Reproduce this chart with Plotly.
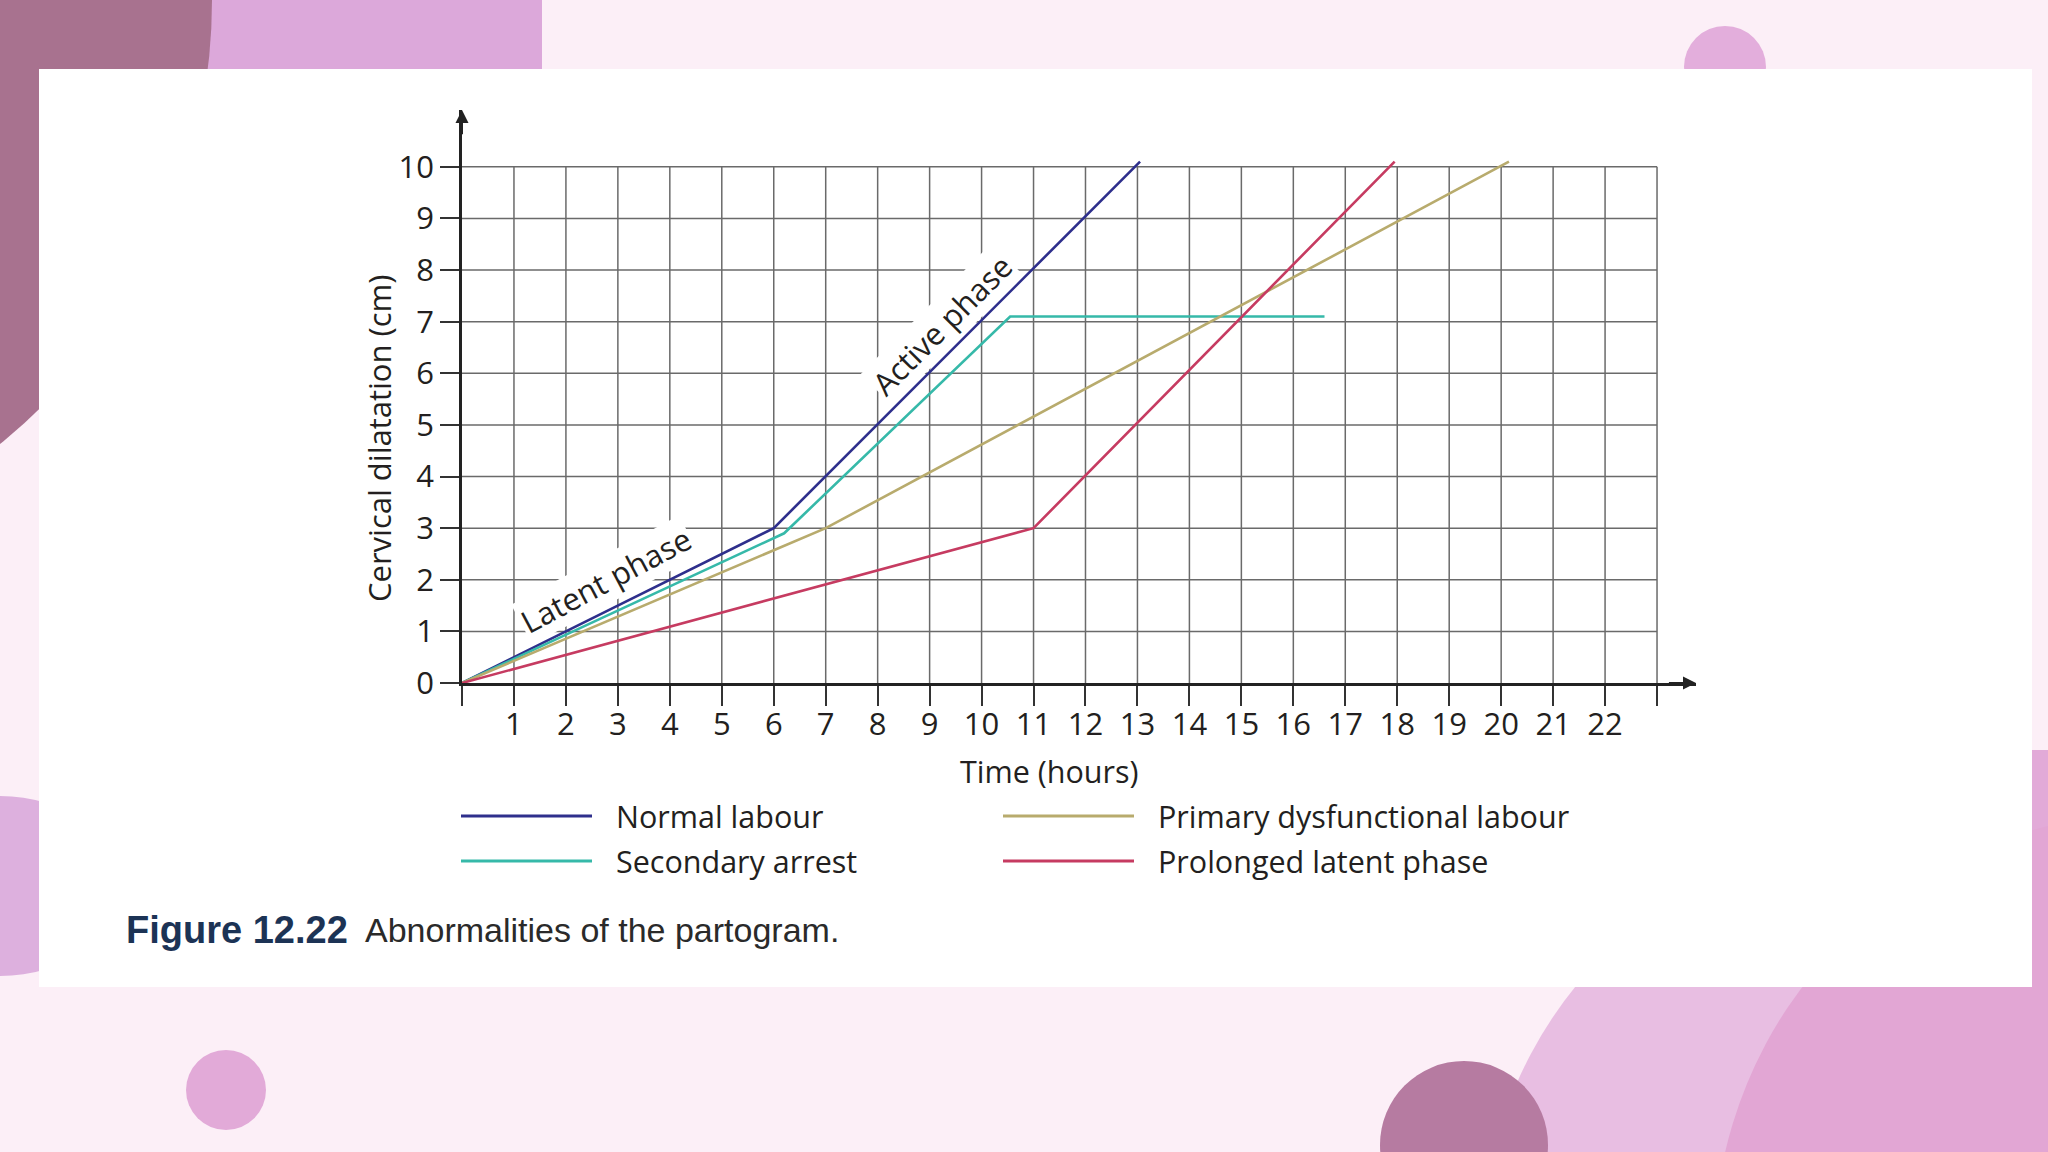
import plotly.graph_objects as go

W, H = 2048, 1152

# cervical dilatation (cm) against time (hours)
hours_normal = [0, 6, 13.05]
cm_normal = [0, 3, 10.1]
hours_secondary = [0, 6.2, 10.55, 16.6]
cm_secondary = [0, 2.9, 7.1, 7.1]
hours_primary = [0, 7, 20.15]
cm_primary = [0, 3, 10.1]
hours_prolonged = [0, 11, 17.95]
cm_prolonged = [0, 3, 10.1]

series_names = ["Normal labour", "Secondary arrest",
                "Primary dysfunctional labour", "Prolonged latent phase"]
series_colors = ["#2E2F8C", "#36B9A9", "#B8AB6D", "#C63B61"]

x_ticks = list(range(0, 24))
x_ticklabels = [""] + [str(i) for i in range(1, 23)] + [""]
y_ticks = list(range(0, 11))
y_ticklabels = [str(i) for i in y_ticks]

TEXT = "#231F20"
FONT = "Open Sans"


def px(x):
    return x / W


def py(y):
    return 1 - y / H


def circle(cx, cy, r, color, ry=None):
    ry = r if ry is None else ry
    return dict(type="circle", xref="paper", yref="paper", layer="below",
                x0=px(cx - r), x1=px(cx + r), y0=py(cy + ry), y1=py(cy - ry),
                fillcolor=color, line=dict(width=0))


def rect(x0, y0, x1, y1, color):
    return dict(type="rect", xref="paper", yref="paper", layer="below",
                x0=px(x0), x1=px(x1), y0=py(y1), y1=py(y0),
                fillcolor=color, line=dict(width=0))


def label(x, y, text, size, **kw):
    d = dict(x=px(x), y=py(y), xref="paper", yref="paper", text=text,
             showarrow=False, xanchor="center", yanchor="middle",
             font=dict(family=FONT, size=size, color=TEXT))
    d.update(kw)
    return d


fig = go.Figure()

series = [(hours_normal, cm_normal), (hours_secondary, cm_secondary),
          (hours_primary, cm_primary), (hours_prolonged, cm_prolonged)]
for (xs, ys), name, color in zip(series, series_names, series_colors):
    fig.add_trace(go.Scatter(x=xs, y=ys, mode="lines", name=name,
                             line=dict(color=color, width=2.6),
                             showlegend=False))

# slide background decoration
shapes = [
    rect(150, -5, 542, 75, "#DCA8DA"),
    circle(-359, 0, 571, "#A8728F"),
    circle(1725, 67, 41, "#E3AEDC"),
    circle(0, 886, 120, "#DDB0DE", ry=90),
    rect(2020, 750, 2060, 1160, "#E2AAD8"),
    circle(1900, 1250, 418, "#E8BEE2"),
    circle(2150, 1250, 436, "#E2A6D4"),
    circle(1464, 1145, 84, "#B67BA1"),
    circle(226, 1090, 40, "#E2AAD8"),
    rect(39, 69, 2032, 987, "#FFFFFF"),
]

# grid
grid = dict(color="#6A6A6A", width=1.5)
for i in range(1, 24):
    shapes.append(dict(type="line", xref="x", yref="y", layer="below",
                       x0=i, x1=i, y0=0, y1=10, line=grid))
for j in range(1, 11):
    shapes.append(dict(type="line", xref="x", yref="y", layer="below",
                       x0=0, x1=23, y0=j, y1=j, line=grid))

# legend drawn by hand, two columns
legend_pos = [(461, 816), (461, 861), (1003, 816), (1003, 861)]
annotations = []
for (lx, ly), name, color in zip(legend_pos, series_names, series_colors):
    shapes.append(dict(type="line", xref="paper", yref="paper",
                       x0=px(lx), x1=px(lx + 131), y0=py(ly), y1=py(ly),
                       line=dict(color=color, width=3)))
    annotations.append(label(lx + 153, ly, name, 30.5, xanchor="left"))

# axis arrows
annotations += [
    dict(x=23.75, y=0, ax=23.2, ay=0, xref="x", yref="y", axref="x", ayref="y",
         text="", showarrow=True, arrowhead=2, arrowsize=1.3, arrowwidth=2,
         arrowcolor="#222"),
    dict(x=0, y=11.1, ax=0, ay=10.6, xref="x", yref="y", axref="x", ayref="y",
         text="", showarrow=True, arrowhead=2, arrowsize=1.3, arrowwidth=2,
         arrowcolor="#222"),
]

# phase labels
annotations += [
    dict(x=2.76, y=2.0, xref="x", yref="y", text="Latent phase", textangle=-28,
         showarrow=False, bgcolor="white", borderpad=1,
         font=dict(family=FONT, size=31, color=TEXT)),
    dict(x=9.23, y=6.94, xref="x", yref="y", text="Active phase", textangle=-45,
         showarrow=False, bgcolor="white", borderpad=1,
         font=dict(family=FONT, size=31, color=TEXT)),
]

# axis titles and caption
annotations += [
    label(379, 439, "Cervical dilatation (cm)", 31, textangle=-90),
    label(1049, 771, "Time (hours)", 30.5),
    label(124, 930, "<b>Figure 12.22</b>", 38, xanchor="left",
          font=dict(family="Liberation Sans", size=38, color="#1C3355")),
    label(363, 930, "Abnormalities of the partogram.", 34, xanchor="left",
          font=dict(family="Liberation Sans", size=34, color="#2A2A2A")),
]

fig.update_layout(
    template="none",
    width=W, height=H, autosize=False,
    margin=dict(l=0, r=0, t=0, b=0, pad=0),
    paper_bgcolor="#FCEFF7",
    plot_bgcolor="rgba(0,0,0,0)",
    showlegend=False,
    shapes=shapes,
    annotations=annotations,
    xaxis=dict(domain=[px(462), px(1696)], range=[0, 23.75], automargin=False,
               tickvals=x_ticks, ticktext=x_ticklabels,
               ticks="outside", ticklen=20, tickwidth=2, tickcolor="#333",
               ticklabelstandoff=-8,
               showline=True, linecolor="#222", linewidth=2.5,
               showgrid=False, zeroline=False, fixedrange=True,
               tickfont=dict(family=FONT, size=31, color=TEXT)),
    yaxis=dict(domain=[py(683), py(110)], range=[0, 11.1], automargin=False,
               tickvals=y_ticks, ticktext=y_ticklabels,
               ticks="outside", ticklen=19, tickwidth=2, tickcolor="#333",
               showline=True, linecolor="#222", linewidth=2.5,
               showgrid=False, zeroline=False, fixedrange=True,
               tickfont=dict(family=FONT, size=31, color=TEXT)),
)

page_fix = (
    "document.body.style.margin='0';"
    "document.body.style.overflow='hidden';"
)

fig.write_html("out.html", config={"displayModeBar": False}, post_script=page_fix)
